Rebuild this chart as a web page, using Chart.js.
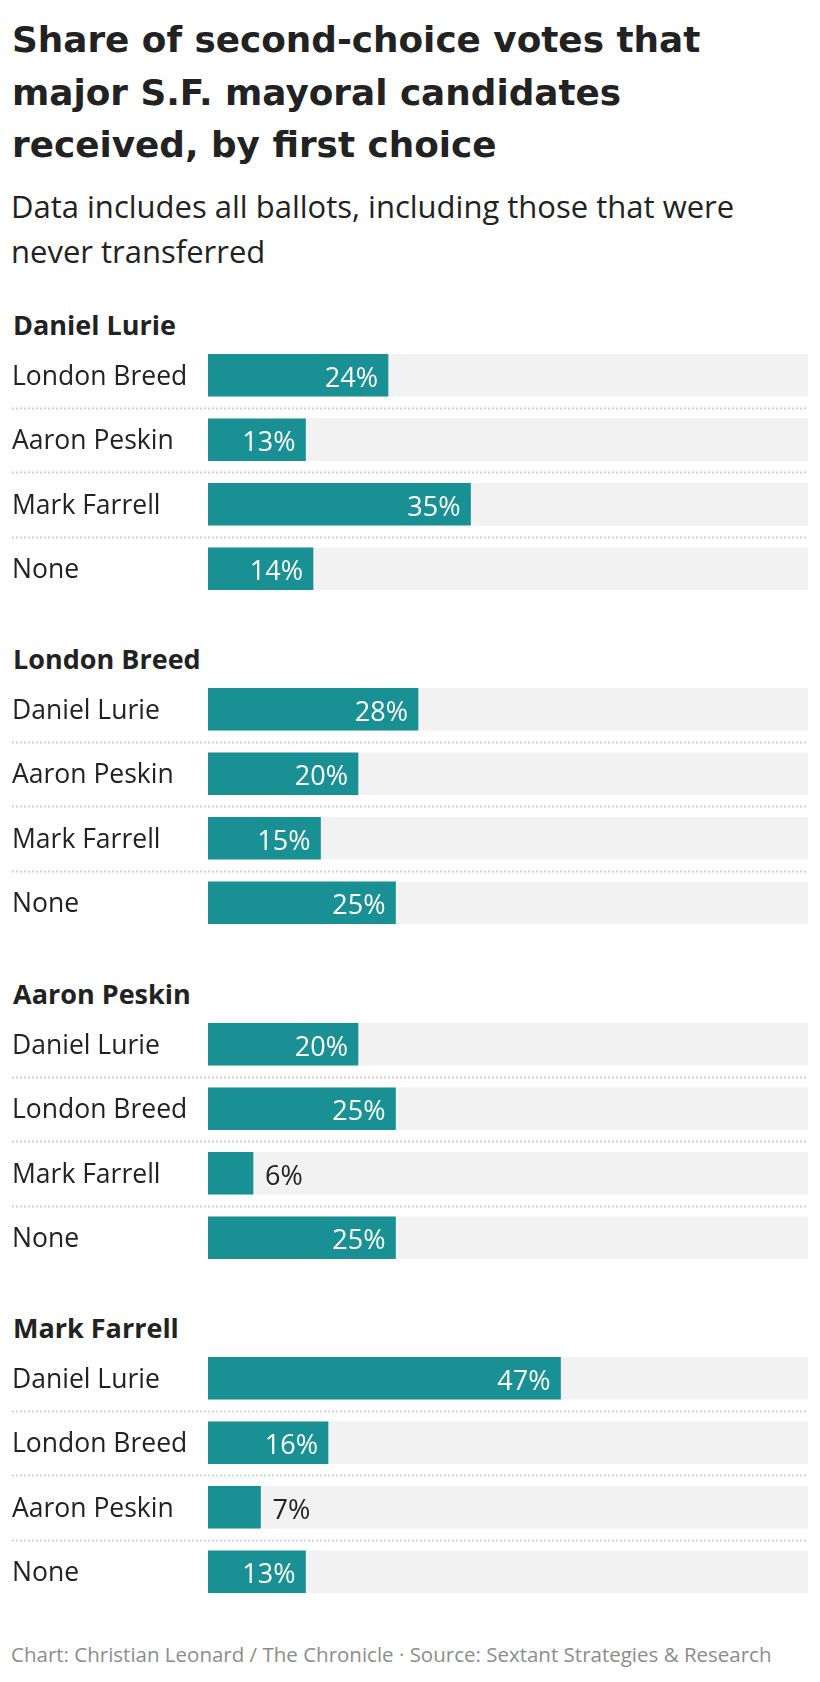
<!DOCTYPE html>
<html>
<head>
<meta charset="utf-8">
<script src="https://cdn.jsdelivr.net/npm/chart.js@4.4.1/dist/chart.umd.min.js"></script>
<style>
  html,body{margin:0;padding:0;background:#fff;}
  #page{position:relative;width:820px;height:1682px;overflow:hidden;font-family:"Open Sans",sans-serif;color:#222;}
  .title{position:absolute;left:12px;top:14px;width:740px;font-family:"DejaVu Sans",sans-serif;font-size:35.8px;font-weight:700;line-height:52.7px;margin:0;}
  .sub{position:absolute;left:11px;top:184px;width:760px;font-size:31px;line-height:45px;margin:0;}
  .ghead{position:absolute;left:13px;font-size:27px;font-weight:700;line-height:30px;}
  .cwrap{position:absolute;left:12px;width:796px;height:258px;}
  .foot{position:absolute;left:11px;top:1640px;font-size:20.5px;color:#8c8c8c;margin:0;}
</style>
</head>
<body>
<div id="page">
  <h1 class="title">Share of second-choice votes that major S.F. mayoral candidates received, by first choice</h1>
  <p class="sub">Data includes all ballots, including those that were never transferred</p>
  <div id="groups"></div>
  <p class="foot">Chart: Christian Leonard / The Chronicle · Source: Sextant Strategies &amp; Research</p>
</div>
<script>
// first choice of the voter
var firstChoice = ["Daniel Lurie", "London Breed", "Aaron Peskin", "Mark Farrell"];

// second choice rows per group
var luriePicks  = ["London Breed", "Aaron Peskin", "Mark Farrell", "None"];
var breedPicks  = ["Daniel Lurie", "Aaron Peskin", "Mark Farrell", "None"];
var peskinPicks = ["Daniel Lurie", "London Breed", "Mark Farrell", "None"];
var farrellPicks = ["Daniel Lurie", "London Breed", "Aaron Peskin", "None"];

// percent of second-choice votes
var lurieVals  = [24, 13, 35, 14];
var breedVals  = [28, 20, 15, 25];
var peskinVals = [20, 25, 6, 25];
var farrellVals = [47, 16, 7, 13];

var axisMax = 80;

var TEAL = "#199194";
var TRACK = "#f2f2f2";

var groupCats = [luriePicks, breedPicks, peskinPicks, farrellPicks];
var groupVals = [lurieVals, breedVals, peskinVals, farrellVals];

// dotted lines between the rows
var rowLines = {
  id: "rowLines",
  beforeDatasetsDraw: function(chart){
    var c = chart.ctx;
    var bars = chart.getDatasetMeta(0).data;
    c.save();
    c.strokeStyle = "#d2d2d2";
    c.lineWidth = 2;
    c.setLineDash([2, 2]);
    for (var i = 0; i < bars.length - 1; i++) {
      var y = Math.round((bars[i].y + bars[i+1].y) / 2) + 0.5;
      c.beginPath();
      c.moveTo(0, y);
      c.lineTo(chart.width, y);
      c.stroke();
    }
    c.restore();
  }
};

// the % values, inside the bar or after it when short
var valueLabels = {
  id: "valueLabels",
  afterDatasetsDraw: function(chart){
    var c = chart.ctx;
    var ds = chart.data.datasets[0];
    var bars = chart.getDatasetMeta(0).data;
    c.save();
    c.font = "27px 'Open Sans', sans-serif";
    c.textBaseline = "middle";
    bars.forEach(function(b, i){
      var v = ds.data[i];
      var txt = v + "%";
      if (v >= 10) {
        c.fillStyle = "#fff";
        c.textAlign = "right";
        c.fillText(txt, b.x - 10, b.y + 4);
      } else {
        c.fillStyle = "#222";
        c.textAlign = "left";
        c.fillText(txt, b.x + 12, b.y + 4);
      }
    });
    c.restore();
  }
};

var holder = document.getElementById("groups");
firstChoice.forEach(function(name, g){
  var top = 342.8 + g * 334.5;
  var h = document.createElement("div");
  h.className = "ghead";
  h.style.top = (top - 33) + "px";
  h.textContent = name;
  holder.appendChild(h);

  var w = document.createElement("div");
  w.className = "cwrap";
  w.style.top = top + "px";
  var cv = document.createElement("canvas");
  cv.width = 796; cv.height = 258;
  w.appendChild(cv);
  holder.appendChild(w);

  new Chart(cv, {
    type: "bar",
    data: {
      labels: groupCats[g],
      datasets: [
        {data: groupVals[g], backgroundColor: TEAL, barThickness: 42, grouped: false, order: 1},
        {data: groupCats[g].map(function(){ return axisMax; }), backgroundColor: TRACK, barThickness: 42, grouped: false, order: 2}
      ]
    },
    options: {
      indexAxis: "y",
      responsive: false,
      animation: false,
      layout: {padding: 0},
      scales: {
        x: {min: 0, max: axisMax, display: false},
        y: {
          grid: {display: false},
          border: {display: false},
          ticks: {crossAlign: "far", color: "#222", padding: 0, labelOffset: 2, font: {family: "'Open Sans', sans-serif", size: 26.5}},
          afterFit: function(s){ s.width = 196; s.paddingTop = 0; s.paddingBottom = 0; }
        }
      },
      plugins: {legend: {display: false}, tooltip: {enabled: false}}
    },
    plugins: [rowLines, valueLabels]
  });
});
</script>
</body>
</html>
